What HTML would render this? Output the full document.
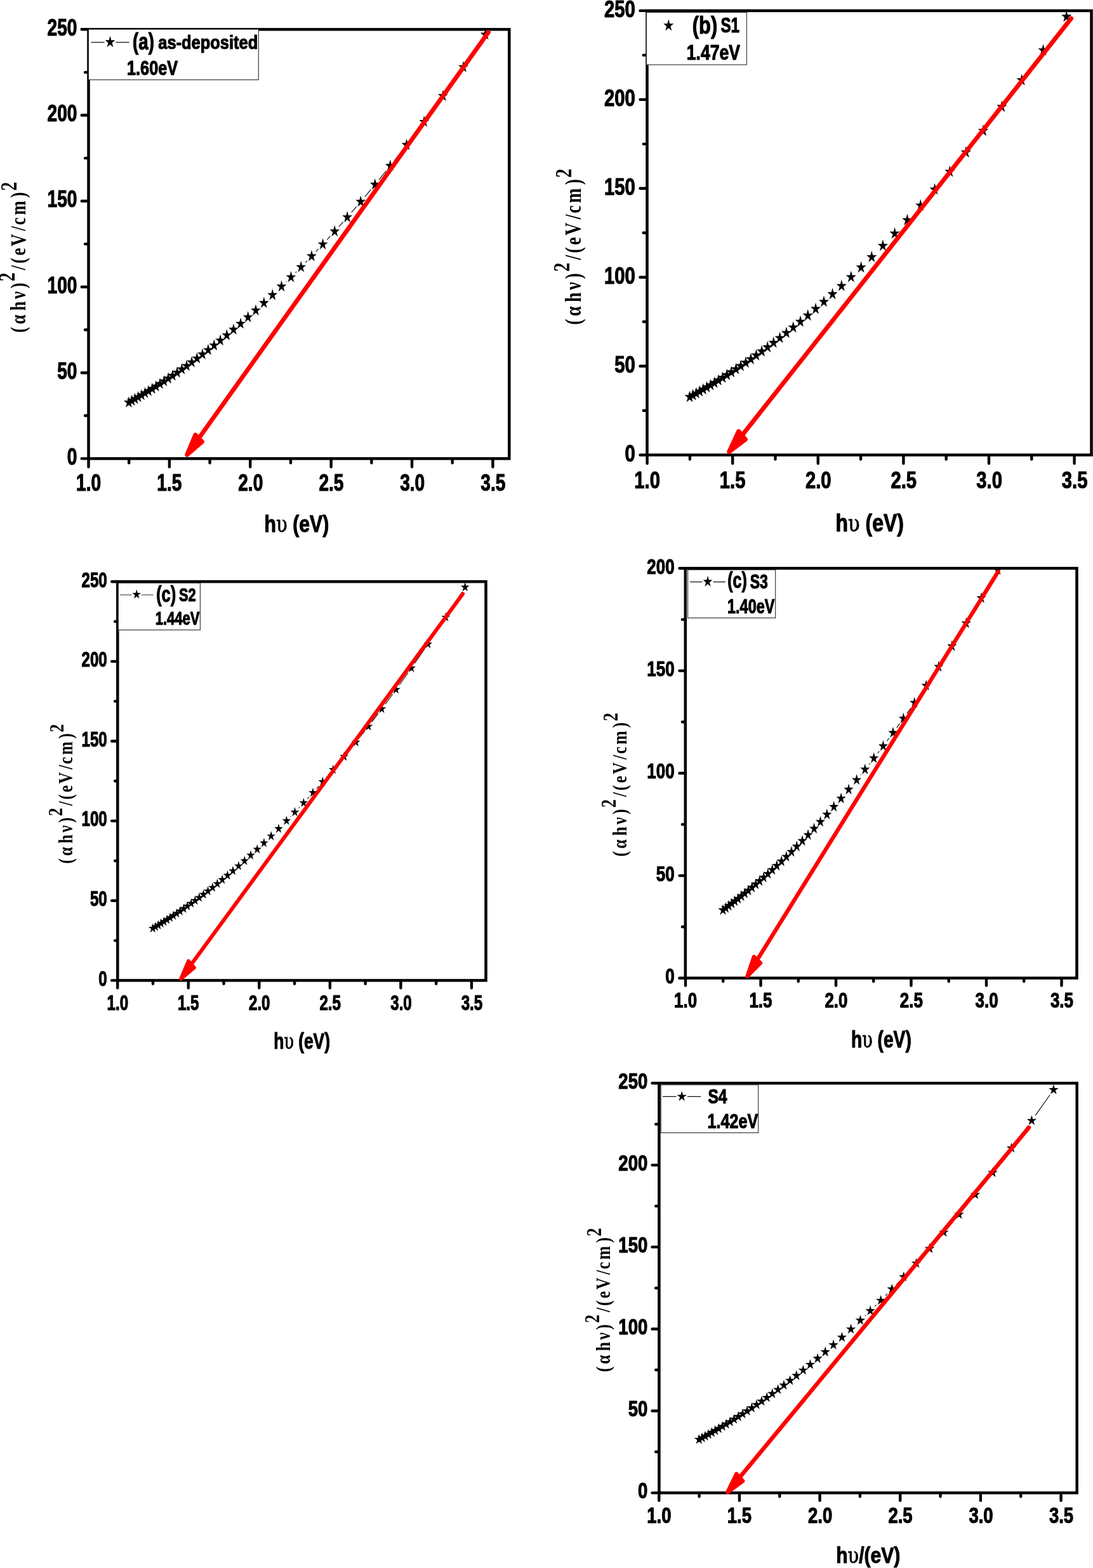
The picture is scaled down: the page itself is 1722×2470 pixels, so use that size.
<!DOCTYPE html>
<html lang="en"><head><meta charset="utf-8"><title>Tauc plots</title>
<style>html,body{margin:0;padding:0;background:#fff}body{width:1722px;height:2470px;overflow:hidden}svg text{fill:#000;white-space:pre}
.s{font-family:"Liberation Sans",sans-serif;font-weight:bold;stroke:#000;stroke-width:1.05px;stroke-linejoin:round;vector-effect:non-scaling-stroke}
.r{font-family:"Liberation Serif",serif;font-weight:bold}
.u{font-family:"DejaVu Serif","Liberation Serif",serif;font-weight:normal;stroke-width:0.8px}
</style>
</head><body>
<svg width="1722" height="2470" viewBox="0 0 1722 2470" style="display:block">
<rect width="1722" height="2470" fill="#fff"/>
<g><path d="M128.70,722.40H138.00M134.00,654.79H138.00M128.70,587.18H138.00M134.00,519.57H138.00M128.70,451.96H138.00M134.00,384.35H138.00M128.70,316.74H138.00M134.00,249.13H138.00M128.70,181.52H138.00M134.00,113.91H138.00M128.70,46.30H138.00M139.50,723.90V735.60M203.19,723.90V729.30M266.88,723.90V735.60M330.57,723.90V729.30M394.26,723.90V735.60M457.95,723.90V729.30M521.64,723.90V735.60M585.33,723.90V729.30M649.02,723.90V735.60M712.71,723.90V729.30M776.40,723.90V735.60" stroke="#000" stroke-width="4.4" stroke-linecap="round" fill="none"/>
<rect x="139.50" y="46.30" width="662.80" height="676.10" fill="none" stroke="#000" stroke-width="4.5"/>
<text transform="translate(105.80,732.11) scale(0.7603,1)" font-size="36.96" class="s" >0</text>
<text transform="translate(90.21,596.89) scale(0.7603,1)" font-size="36.96" class="s" >50</text>
<text transform="translate(74.54,461.67) scale(0.7603,1)" font-size="36.96" class="s" >100</text>
<text transform="translate(74.54,326.45) scale(0.7603,1)" font-size="36.96" class="s" >150</text>
<text transform="translate(74.54,191.23) scale(0.7603,1)" font-size="36.96" class="s" >200</text>
<text transform="translate(74.54,56.01) scale(0.7603,1)" font-size="36.96" class="s" >250</text>
<text transform="translate(120.05,773.01) scale(0.7603,1)" font-size="36.96" class="s" >1.0</text>
<text transform="translate(247.26,773.01) scale(0.7603,1)" font-size="36.96" class="s" >1.5</text>
<text transform="translate(375.20,773.01) scale(0.7603,1)" font-size="36.96" class="s" >2.0</text>
<text transform="translate(502.40,773.01) scale(0.7603,1)" font-size="36.96" class="s" >2.5</text>
<text transform="translate(630.14,772.91) scale(0.7603,1)" font-size="36.96" class="s" >3.0</text>
<text transform="translate(757.34,772.91) scale(0.7603,1)" font-size="36.96" class="s" >3.5</text>
<text transform="translate(416.61,837.98) scale(0.8025,1)" font-size="37.72" class="s" >h<tspan class="u" font-size="36.22">υ</tspan> (eV)</text>
<text transform="translate(40.30,523.40) rotate(-90) scale(0.7900,1)" font-size="34.00" class="r"><tspan x="-0.63" y="0">(</tspan><tspan x="16.07" y="0">α</tspan><tspan x="43.07" y="0">h</tspan><tspan x="66.44" y="0">ν</tspan><tspan x="87.43" y="0">)</tspan><tspan x="101.62" y="-17.68" font-size="35.02">2</tspan><tspan class="q" x="124.08" y="0">/</tspan><tspan x="137.22" y="0">(</tspan><tspan x="152.94" y="0">e</tspan><tspan x="171.43" y="0">V</tspan><tspan class="q" x="202.12" y="0">/</tspan><tspan x="213.78" y="0">c</tspan><tspan x="233.59" y="0">m</tspan><tspan x="268.38" y="0">)</tspan><tspan x="282.19" y="-14.79" font-size="35.02">2</tspan></text>
<path d="M759.08,62.80L735.60,97.44M724.23,113.89L703.67,143.07M692.01,159.32L674.09,183.84M662.15,199.88L646.60,220.41M634.39,236.26L620.98,253.35M608.52,268.99L597.06,283.12M584.34,298.56L574.66,310.12M561.71,325.36L553.66,334.68M540.47,349.71L533.91,357.08M520.50,371.92L515.32,377.58M501.70,392.22L497.78,396.38M483.95,410.83L481.20,413.66M467.18,427.92L465.52,429.59M451.31,443.67L450.65,444.31" stroke="#000" stroke-width="1.1" fill="none"/>
<clipPath id="clip_a"><rect x="139.50" y="46.30" width="662.80" height="676.10"/></clipPath>
<g fill="#000" clip-path="url(#clip_a)"><polygon points="764.69,44.72 766.55,51.49 772.58,51.49 767.71,55.68 769.57,62.45 764.69,58.27 759.81,62.45 761.68,55.68 756.80,51.49 762.83,51.49"/><polygon points="729.99,95.92 731.85,102.69 737.88,102.69 733.00,106.88 734.87,113.65 729.99,109.46 725.11,113.65 726.97,106.88 722.09,102.69 728.12,102.69"/><polygon points="697.92,141.45 699.78,148.22 705.81,148.22 700.93,152.40 702.79,159.17 697.92,154.99 693.04,159.17 694.90,152.40 690.02,148.22 696.05,148.22"/><polygon points="668.19,182.11 670.05,188.88 676.08,188.88 671.20,193.07 673.07,199.84 668.19,195.66 663.31,199.84 665.17,193.07 660.30,188.88 666.33,188.88"/><polygon points="640.56,218.59 642.42,225.36 648.45,225.36 643.58,229.54 645.44,236.31 640.56,232.13 635.68,236.31 637.54,229.54 632.67,225.36 638.70,225.36"/><polygon points="614.81,251.42 616.68,258.19 622.71,258.19 617.83,262.38 619.69,269.15 614.81,264.97 609.93,269.15 611.80,262.38 606.92,258.19 612.95,258.19"/><polygon points="590.76,281.09 592.63,287.86 598.66,287.86 593.78,292.05 595.64,298.82 590.76,294.64 585.88,298.82 587.75,292.05 582.87,287.86 588.90,287.86"/><polygon points="568.25,307.99 570.11,314.76 576.14,314.76 571.26,318.94 573.12,325.72 568.25,321.53 563.37,325.72 565.23,318.94 560.35,314.76 566.38,314.76"/><polygon points="547.12,332.44 548.98,339.22 555.01,339.22 550.14,343.40 552.00,350.17 547.12,345.99 542.24,350.17 544.10,343.40 539.23,339.22 545.26,339.22"/><polygon points="527.26,354.75 529.13,361.52 535.16,361.52 530.28,365.71 532.14,372.48 527.26,368.29 522.38,372.48 524.25,365.71 519.37,361.52 525.40,361.52"/><polygon points="508.56,375.15 510.42,381.92 516.45,381.92 511.58,386.10 513.44,392.88 508.56,388.69 503.68,392.88 505.54,386.10 500.67,381.92 506.70,381.92"/><polygon points="490.92,393.85 492.78,400.62 498.81,400.62 493.93,404.81 495.79,411.58 490.92,407.39 486.04,411.58 487.90,404.81 483.02,400.62 489.05,400.62"/><polygon points="474.24,411.04 476.11,417.81 482.14,417.81 477.26,422.00 479.12,428.77 474.24,424.58 469.36,428.77 471.23,422.00 466.35,417.81 472.38,417.81"/><polygon points="458.46,426.88 460.32,433.65 466.36,433.65 461.48,437.83 463.34,444.60 458.46,440.42 453.58,444.60 455.45,437.83 450.57,433.65 456.60,433.65"/><polygon points="443.50,441.50 445.37,448.27 451.40,448.27 446.52,452.45 448.38,459.22 443.50,455.04 438.62,459.22 440.49,452.45 435.61,448.27 441.64,448.27"/><polygon points="429.31,455.02 431.17,461.79 437.20,461.79 432.32,465.98 434.18,472.75 429.31,468.57 424.43,472.75 426.29,465.98 421.41,461.79 427.44,461.79"/><polygon points="415.81,467.56 417.67,474.33 423.70,474.33 418.83,478.52 420.69,485.29 415.81,481.11 410.93,485.29 412.80,478.52 407.92,474.33 413.95,474.33"/><polygon points="402.97,479.21 404.83,485.98 410.86,485.98 405.99,490.16 407.85,496.93 402.97,492.75 398.09,496.93 399.95,490.16 395.08,485.98 401.11,485.98"/><polygon points="390.73,490.04 392.60,496.81 398.63,496.81 393.75,501.00 395.61,507.77 390.73,503.58 385.86,507.77 387.72,501.00 382.84,496.81 388.87,496.81"/><polygon points="379.06,500.14 380.93,506.91 386.96,506.91 382.08,511.09 383.94,517.87 379.06,513.68 374.18,517.87 376.05,511.09 371.17,506.91 377.20,506.91"/><polygon points="367.92,509.56 369.78,516.33 375.81,516.33 370.93,520.52 372.80,527.29 367.92,523.11 363.04,527.29 364.90,520.52 360.03,516.33 366.06,516.33"/><polygon points="357.27,518.37 359.13,525.15 365.16,525.15 360.28,529.33 362.14,536.10 357.27,531.92 352.39,536.10 354.25,529.33 349.37,525.15 355.40,525.15"/><polygon points="347.07,526.62 348.94,533.40 354.97,533.40 350.09,537.58 351.95,544.35 347.07,540.17 342.19,544.35 344.06,537.58 339.18,533.40 345.21,533.40"/><polygon points="337.31,534.36 339.17,541.13 345.20,541.13 340.32,545.32 342.19,552.09 337.31,547.90 332.43,552.09 334.29,545.32 329.42,541.13 335.45,541.13"/><polygon points="327.95,541.62 329.81,548.39 335.84,548.39 330.97,552.58 332.83,559.35 327.95,555.17 323.07,559.35 324.93,552.58 320.06,548.39 326.09,548.39"/><polygon points="318.97,548.45 320.83,555.22 326.86,555.22 321.99,559.41 323.85,566.18 318.97,561.99 314.09,566.18 315.95,559.41 311.08,555.22 317.11,555.22"/><polygon points="310.35,554.88 312.21,561.65 318.24,561.65 313.36,565.83 315.23,572.61 310.35,568.42 305.47,572.61 307.33,565.83 302.45,561.65 308.48,561.65"/><polygon points="302.06,560.93 303.92,567.71 309.95,567.71 305.07,571.89 306.94,578.66 302.06,574.48 297.18,578.66 299.04,571.89 294.17,567.71 300.20,567.71"/><polygon points="294.09,566.65 295.95,573.42 301.98,573.42 297.10,577.61 298.97,584.38 294.09,580.19 289.21,584.38 291.07,577.61 286.19,573.42 292.22,573.42"/><polygon points="286.42,572.05 288.28,578.82 294.31,578.82 289.43,583.00 291.29,589.77 286.42,585.59 281.54,589.77 283.40,583.00 278.52,578.82 284.55,578.82"/><polygon points="279.03,577.15 280.89,583.92 286.92,583.92 282.04,588.11 283.91,594.88 279.03,590.69 274.15,594.88 276.01,588.11 271.13,583.92 277.16,583.92"/><polygon points="271.90,581.98 273.77,588.75 279.80,588.75 274.92,592.94 276.78,599.71 271.90,595.52 267.03,599.71 268.89,592.94 264.01,588.75 270.04,588.75"/><polygon points="265.03,586.56 266.90,593.33 272.93,593.33 268.05,597.51 269.91,604.28 265.03,600.10 260.16,604.28 262.02,597.51 257.14,593.33 263.17,593.33"/><polygon points="258.40,590.90 260.27,597.67 266.30,597.67 261.42,601.85 263.28,608.62 258.40,604.44 253.52,608.62 255.39,601.85 250.51,597.67 256.54,597.67"/><polygon points="252.00,595.02 253.86,601.79 259.89,601.79 255.02,605.97 256.88,612.74 252.00,608.56 247.12,612.74 248.98,605.97 244.11,601.79 250.14,601.79"/><polygon points="245.81,598.93 247.68,605.70 253.71,605.70 248.83,609.89 250.69,616.66 245.81,612.47 240.93,616.66 242.80,609.89 237.92,605.70 243.95,605.70"/><polygon points="239.83,602.65 241.69,609.42 247.72,609.42 242.85,613.61 244.71,620.38 239.83,616.20 234.95,620.38 236.81,613.61 231.94,609.42 237.97,609.42"/><polygon points="234.04,606.19 235.91,612.97 241.94,612.97 237.06,617.15 238.92,623.92 234.04,619.74 229.16,623.92 231.03,617.15 226.15,612.97 232.18,612.97"/><polygon points="228.44,609.57 230.30,616.34 236.33,616.34 231.46,620.52 233.32,627.30 228.44,623.11 223.56,627.30 225.43,620.52 220.55,616.34 226.58,616.34"/><polygon points="223.02,612.78 224.88,619.56 230.91,619.56 226.03,623.74 227.89,630.51 223.02,626.33 218.14,630.51 220.00,623.74 215.12,619.56 221.15,619.56"/><polygon points="217.76,615.85 219.62,622.62 225.65,622.62 220.78,626.81 222.64,633.58 217.76,629.39 212.88,633.58 214.74,626.81 209.87,622.62 215.90,622.62"/><polygon points="212.66,618.78 214.53,625.55 220.56,625.55 215.68,629.74 217.54,636.51 212.66,632.32 207.79,636.51 209.65,629.74 204.77,625.55 210.80,625.55"/><polygon points="207.72,621.58 209.59,628.35 215.62,628.35 210.74,632.53 212.60,639.30 207.72,635.12 202.84,639.30 204.71,632.53 199.83,628.35 205.86,628.35"/><polygon points="202.93,624.25 204.79,631.02 210.82,631.02 205.94,635.21 207.81,641.98 202.93,637.79 198.05,641.98 199.91,635.21 195.03,631.02 201.06,631.02"/></g>
<g stroke="#f00" fill="#f00" stroke-linejoin="round" stroke-linecap="round"><path d="M769.50,50.80L313.10,690.45" stroke-width="6.9" fill="none"/><path d="M294.70,716.30L307.80,685.00L318.40,695.90Z" stroke-width="6.9"/></g>
<rect x="139.50" y="46.10" width="267.80" height="79.60" fill="#fff" stroke="#2a2a2a" stroke-width="1.1"/>
<path d="M143.40,66.60H164.60M182.40,66.60H203.60" stroke="#111" stroke-width="1.1" fill="none"/>
<polygon points="173.50,56.60 175.36,63.37 181.39,63.37 176.52,67.56 178.38,74.33 173.50,70.14 168.62,74.33 170.48,67.56 165.61,63.37 171.64,63.37" fill="#000"/>
<text transform="translate(209.04,78.24) scale(0.7620,1)" font-size="36.30" class="s" >(a)</text>
<text transform="translate(249.26,77.00) scale(0.8558,1)" font-size="29.76" class="s" >as-deposited</text>
<text transform="translate(200.05,117.76) scale(0.7965,1)" font-size="31.73" class="s" >1.60eV</text></g>
<g><path d="M1008.50,716.70H1018.00M1013.70,646.72H1018.00M1008.50,576.74H1018.00M1013.70,506.76H1018.00M1008.50,436.78H1018.00M1013.70,366.80H1018.00M1008.50,296.82H1018.00M1013.70,226.84H1018.00M1008.50,156.86H1018.00M1013.70,86.88H1018.00M1008.50,16.90H1018.00M1019.60,718.20V730.10M1086.90,718.20V723.60M1154.20,718.20V730.10M1221.50,718.20V723.60M1288.80,718.20V730.10M1356.10,718.20V723.60M1423.40,718.20V730.10M1490.70,718.20V723.60M1558.00,718.20V730.10M1625.30,718.20V723.60M1692.60,718.20V730.10" stroke="#000" stroke-width="4.4" stroke-linecap="round" fill="none"/>
<rect x="1019.50" y="16.90" width="700.00" height="699.80" fill="none" stroke="#000" stroke-width="4.5"/>
<text transform="translate(984.42,726.50) scale(0.7848,1)" font-size="37.24" class="s" >0</text>
<text transform="translate(968.20,586.54) scale(0.7848,1)" font-size="37.24" class="s" >50</text>
<text transform="translate(951.90,446.58) scale(0.7848,1)" font-size="37.24" class="s" >100</text>
<text transform="translate(951.90,306.62) scale(0.7848,1)" font-size="37.24" class="s" >150</text>
<text transform="translate(951.90,166.66) scale(0.7848,1)" font-size="37.24" class="s" >200</text>
<text transform="translate(951.90,26.70) scale(0.7848,1)" font-size="37.24" class="s" >250</text>
<text transform="translate(999.36,768.60) scale(0.7848,1)" font-size="37.24" class="s" >1.0</text>
<text transform="translate(1133.77,768.60) scale(0.7848,1)" font-size="37.24" class="s" >1.5</text>
<text transform="translate(1268.96,768.60) scale(0.7848,1)" font-size="37.24" class="s" >2.0</text>
<text transform="translate(1403.38,768.60) scale(0.7848,1)" font-size="37.24" class="s" >2.5</text>
<text transform="translate(1538.34,768.51) scale(0.7848,1)" font-size="37.24" class="s" >3.0</text>
<text transform="translate(1672.76,768.51) scale(0.7848,1)" font-size="37.24" class="s" >3.5</text>
<text transform="translate(1316.49,836.58) scale(0.8226,1)" font-size="38.83" class="s" >h<tspan class="u" font-size="37.27">υ</tspan> (eV)</text>
<text transform="translate(915.20,511.20) rotate(-90) scale(0.7900,1)" font-size="35.27" class="r"><tspan x="-0.66" y="0">(</tspan><tspan x="16.67" y="0">α</tspan><tspan x="44.68" y="0">h</tspan><tspan x="68.92" y="0">ν</tspan><tspan x="90.69" y="0">)</tspan><tspan x="105.41" y="-18.34" font-size="36.33">2</tspan><tspan class="q" x="128.70" y="0">/</tspan><tspan x="142.33" y="0">(</tspan><tspan x="158.64" y="0">e</tspan><tspan x="177.82" y="0">V</tspan><tspan class="q" x="209.65" y="0">/</tspan><tspan x="221.75" y="0">c</tspan><tspan x="242.30" y="0">m</tspan><tspan x="278.38" y="0">)</tspan><tspan x="292.71" y="-15.34" font-size="36.33">2</tspan></text>
<clipPath id="clip_b"><rect x="1019.50" y="16.90" width="700.00" height="699.80"/></clipPath>
<g fill="#000" clip-path="url(#clip_b)"><polygon points="1680.23,16.41 1682.14,23.32 1688.31,23.32 1683.32,27.59 1685.22,34.50 1680.23,30.23 1675.23,34.50 1677.14,27.59 1672.14,23.32 1678.32,23.32"/><polygon points="1643.56,69.33 1645.46,76.24 1651.64,76.24 1646.64,80.51 1648.55,87.42 1643.56,83.15 1638.56,87.42 1640.47,80.51 1635.47,76.24 1641.65,76.24"/><polygon points="1609.67,116.38 1611.58,123.29 1617.75,123.29 1612.75,127.56 1614.66,134.47 1609.67,130.20 1604.67,134.47 1606.58,127.56 1601.58,123.29 1607.76,123.29"/><polygon points="1578.26,158.41 1580.16,165.32 1586.34,165.32 1581.34,169.59 1583.25,176.50 1578.26,172.23 1573.26,176.50 1575.17,169.59 1570.17,165.32 1576.35,165.32"/><polygon points="1549.06,196.11 1550.97,203.02 1557.14,203.02 1552.15,207.29 1554.06,214.20 1549.06,209.93 1544.06,214.20 1545.97,207.29 1540.98,203.02 1547.15,203.02"/><polygon points="1521.85,230.05 1523.76,236.96 1529.94,236.96 1524.94,241.23 1526.85,248.14 1521.85,243.87 1516.86,248.14 1518.77,241.23 1513.77,236.96 1519.95,236.96"/><polygon points="1496.44,260.71 1498.35,267.62 1504.52,267.62 1499.53,271.89 1501.44,278.80 1496.44,274.53 1491.44,278.80 1493.35,271.89 1488.36,267.62 1494.53,267.62"/><polygon points="1472.65,288.51 1474.56,295.42 1480.73,295.42 1475.73,299.69 1477.64,306.60 1472.65,302.33 1467.65,306.60 1469.56,299.69 1464.56,295.42 1470.74,295.42"/><polygon points="1450.32,313.79 1452.23,320.70 1458.41,320.70 1453.41,324.97 1455.32,331.88 1450.32,327.61 1445.33,331.88 1447.24,324.97 1442.24,320.70 1448.42,320.70"/><polygon points="1429.34,336.84 1431.25,343.75 1437.42,343.75 1432.43,348.02 1434.34,354.93 1429.34,350.66 1424.34,354.93 1426.25,348.02 1421.26,343.75 1427.43,343.75"/><polygon points="1409.58,357.92 1411.49,364.83 1417.66,364.83 1412.67,369.10 1414.57,376.01 1409.58,371.74 1404.58,376.01 1406.49,369.10 1401.49,364.83 1407.67,364.83"/><polygon points="1390.93,377.25 1392.84,384.16 1399.02,384.16 1394.02,388.43 1395.93,395.34 1390.93,391.07 1385.94,395.34 1387.85,388.43 1382.85,384.16 1389.03,384.16"/><polygon points="1373.32,395.02 1375.22,401.93 1381.40,401.93 1376.40,406.20 1378.31,413.11 1373.32,408.84 1368.32,413.11 1370.23,406.20 1365.23,401.93 1371.41,401.93"/><polygon points="1356.64,411.39 1358.55,418.30 1364.72,418.30 1359.73,422.57 1361.64,429.48 1356.64,425.21 1351.64,429.48 1353.55,422.57 1348.56,418.30 1354.73,418.30"/><polygon points="1340.83,426.50 1342.74,433.41 1348.92,433.41 1343.92,437.68 1345.83,444.59 1340.83,440.32 1335.84,444.59 1337.75,437.68 1332.75,433.41 1338.93,433.41"/><polygon points="1325.83,440.48 1327.74,447.39 1333.92,447.39 1328.92,451.66 1330.83,458.57 1325.83,454.30 1320.84,458.57 1322.74,451.66 1317.75,447.39 1323.92,447.39"/><polygon points="1311.57,453.44 1313.48,460.35 1319.66,460.35 1314.66,464.62 1316.57,471.53 1311.57,467.26 1306.58,471.53 1308.48,464.62 1303.49,460.35 1309.66,460.35"/><polygon points="1298.00,465.47 1299.91,472.38 1306.09,472.38 1301.09,476.65 1303.00,483.56 1298.00,479.29 1293.01,483.56 1294.92,476.65 1289.92,472.38 1296.09,472.38"/><polygon points="1285.07,476.67 1286.98,483.58 1293.16,483.58 1288.16,487.85 1290.07,494.76 1285.07,490.49 1280.08,494.76 1281.99,487.85 1276.99,483.58 1283.17,483.58"/><polygon points="1272.74,487.11 1274.65,494.02 1280.83,494.02 1275.83,498.29 1277.74,505.20 1272.74,500.93 1267.75,505.20 1269.65,498.29 1264.66,494.02 1270.83,494.02"/><polygon points="1260.97,496.85 1262.87,503.76 1269.05,503.76 1264.05,508.03 1265.96,514.94 1260.97,510.67 1255.97,514.94 1257.88,508.03 1252.88,503.76 1259.06,503.76"/><polygon points="1249.71,505.96 1251.62,512.86 1257.79,512.86 1252.80,517.14 1254.71,524.05 1249.71,519.78 1244.71,524.05 1246.62,517.14 1241.62,512.86 1247.80,512.86"/><polygon points="1238.94,514.48 1240.85,521.39 1247.02,521.39 1242.03,525.66 1243.93,532.57 1238.94,528.30 1233.94,532.57 1235.85,525.66 1230.85,521.39 1237.03,521.39"/><polygon points="1228.62,522.48 1230.53,529.39 1236.71,529.39 1231.71,533.66 1233.62,540.57 1228.62,536.30 1223.63,540.57 1225.53,533.66 1220.54,529.39 1226.71,529.39"/><polygon points="1218.73,529.98 1220.64,536.89 1226.82,536.89 1221.82,541.16 1223.73,548.07 1218.73,543.80 1213.74,548.07 1215.64,541.16 1210.65,536.89 1216.82,536.89"/><polygon points="1209.24,537.04 1211.15,543.95 1217.33,543.95 1212.33,548.22 1214.24,555.13 1209.24,550.86 1204.25,555.13 1206.15,548.22 1201.16,543.95 1207.33,543.95"/><polygon points="1200.13,543.68 1202.04,550.59 1208.21,550.59 1203.22,554.86 1205.13,561.77 1200.13,557.50 1195.13,561.77 1197.04,554.86 1192.05,550.59 1198.22,550.59"/><polygon points="1191.37,549.94 1193.28,556.85 1199.46,556.85 1194.46,561.12 1196.37,568.03 1191.37,563.76 1186.38,568.03 1188.29,561.12 1183.29,556.85 1189.46,556.85"/><polygon points="1182.95,555.85 1184.86,562.76 1191.03,562.76 1186.04,567.03 1187.95,573.94 1182.95,569.67 1177.95,573.94 1179.86,567.03 1174.87,562.76 1181.04,562.76"/><polygon points="1174.84,561.43 1176.75,568.34 1182.93,568.34 1177.93,572.61 1179.84,579.52 1174.84,575.25 1169.85,579.52 1171.76,572.61 1166.76,568.34 1172.94,568.34"/><polygon points="1167.04,566.70 1168.94,573.61 1175.12,573.61 1170.12,577.88 1172.03,584.79 1167.04,580.52 1162.04,584.79 1163.95,577.88 1158.95,573.61 1165.13,573.61"/><polygon points="1159.51,571.69 1161.42,578.60 1167.59,578.60 1162.60,582.88 1164.50,589.79 1159.51,585.51 1154.51,589.79 1156.42,582.88 1151.42,578.60 1157.60,578.60"/><polygon points="1152.25,576.43 1154.16,583.33 1160.33,583.33 1155.34,587.61 1157.25,594.52 1152.25,590.25 1147.25,594.52 1149.16,587.61 1144.17,583.33 1150.34,583.33"/><polygon points="1145.24,580.91 1147.15,587.82 1153.33,587.82 1148.33,592.09 1150.24,599.00 1145.24,594.73 1140.25,599.00 1142.15,592.09 1137.16,587.82 1143.33,587.82"/><polygon points="1138.48,585.17 1140.39,592.08 1146.56,592.08 1141.56,596.35 1143.47,603.26 1138.48,598.99 1133.48,603.26 1135.39,596.35 1130.39,592.08 1136.57,592.08"/><polygon points="1131.94,589.21 1133.85,596.12 1140.02,596.12 1135.03,600.40 1136.93,607.30 1131.94,603.03 1126.94,607.30 1128.85,600.40 1123.85,596.12 1130.03,596.12"/><polygon points="1125.62,593.06 1127.53,599.97 1133.70,599.97 1128.71,604.24 1130.61,611.15 1125.62,606.88 1120.62,611.15 1122.53,604.24 1117.53,599.97 1123.71,599.97"/><polygon points="1119.50,596.72 1121.41,603.63 1127.59,603.63 1122.59,607.90 1124.50,614.81 1119.50,610.54 1114.51,614.81 1116.41,607.90 1111.42,603.63 1117.59,603.63"/><polygon points="1113.58,600.21 1115.49,607.12 1121.67,607.12 1116.67,611.39 1118.58,618.30 1113.58,614.03 1108.59,618.30 1110.49,611.39 1105.50,607.12 1111.67,607.12"/><polygon points="1107.85,603.53 1109.76,610.44 1115.93,610.44 1110.94,614.71 1112.85,621.62 1107.85,617.35 1102.85,621.62 1104.76,614.71 1099.77,610.44 1105.94,610.44"/><polygon points="1102.30,606.70 1104.20,613.61 1110.38,613.61 1105.38,617.88 1107.29,624.79 1102.30,620.52 1097.30,624.79 1099.21,617.88 1094.21,613.61 1100.39,613.61"/><polygon points="1096.91,609.73 1098.82,616.64 1105.00,616.64 1100.00,620.91 1101.91,627.82 1096.91,623.55 1091.91,627.82 1093.82,620.91 1088.83,616.64 1095.00,616.64"/><polygon points="1091.69,612.62 1093.60,619.53 1099.77,619.53 1094.78,623.80 1096.69,630.71 1091.69,626.44 1086.69,630.71 1088.60,623.80 1083.61,619.53 1089.78,619.53"/><polygon points="1086.62,615.38 1088.53,622.29 1094.71,622.29 1089.71,626.56 1091.62,633.47 1086.62,629.20 1081.63,633.47 1083.53,626.56 1078.54,622.29 1084.71,622.29"/></g>
<g stroke="#f00" fill="#f00" stroke-linejoin="round" stroke-linecap="round"><path d="M1687.60,29.00L1169.15,685.75" stroke-width="6.9" fill="none"/><path d="M1148.60,711.80L1163.80,679.30L1174.50,692.20Z" stroke-width="6.9"/></g>
<rect x="1018.40" y="19.50" width="157.90" height="82.50" fill="#fff" stroke="#2a2a2a" stroke-width="1.1"/>
<polygon points="1053.30,30.30 1055.21,37.21 1061.38,37.21 1056.39,41.48 1058.30,48.39 1053.30,44.12 1048.30,48.39 1050.21,41.48 1045.22,37.21 1051.39,37.21" fill="#000"/>
<text transform="translate(1090.78,52.88) scale(0.8007,1)" font-size="38.55" class="s" >(b)</text>
<text transform="translate(1135.50,51.05) scale(0.7353,1)" font-size="32.86" class="s" >S1</text>
<text transform="translate(1081.76,93.64) scale(0.7854,1)" font-size="33.91" class="s" >1.47eV</text></g>
<g><path d="M176.20,1544.40H183.80M181.10,1481.58H183.80M176.20,1418.76H183.80M181.10,1355.94H183.80M176.20,1293.12H183.80M181.10,1230.30H183.80M176.20,1167.48H183.80M181.10,1104.66H183.80M176.20,1041.84H183.80M181.10,979.02H183.80M176.20,916.20H183.80M185.20,1545.90V1556.20M240.97,1545.90V1549.70M296.75,1545.90V1556.20M352.52,1545.90V1549.70M408.30,1545.90V1556.20M464.07,1545.90V1549.70M519.85,1545.90V1556.20M575.62,1545.90V1549.70M631.40,1545.90V1556.20M687.17,1545.90V1549.70M742.95,1545.90V1556.20" stroke="#000" stroke-width="4.4" stroke-linecap="round" fill="none"/>
<rect x="185.30" y="916.20" width="580.20" height="628.20" fill="none" stroke="#000" stroke-width="4.5"/>
<text transform="translate(155.34,1552.75) scale(0.7443,1)" font-size="32.44" class="s" >0</text>
<text transform="translate(141.94,1427.11) scale(0.7443,1)" font-size="32.44" class="s" >50</text>
<text transform="translate(128.48,1301.47) scale(0.7443,1)" font-size="32.44" class="s" >100</text>
<text transform="translate(128.48,1175.83) scale(0.7443,1)" font-size="32.44" class="s" >150</text>
<text transform="translate(128.48,1050.19) scale(0.7443,1)" font-size="32.44" class="s" >200</text>
<text transform="translate(128.48,924.55) scale(0.7443,1)" font-size="32.44" class="s" >250</text>
<text transform="translate(168.55,1590.65) scale(0.7443,1)" font-size="32.44" class="s" >1.0</text>
<text transform="translate(279.95,1590.65) scale(0.7443,1)" font-size="32.44" class="s" >1.5</text>
<text transform="translate(391.98,1590.65) scale(0.7443,1)" font-size="32.44" class="s" >2.0</text>
<text transform="translate(503.38,1590.65) scale(0.7443,1)" font-size="32.44" class="s" >2.5</text>
<text transform="translate(615.23,1590.57) scale(0.7443,1)" font-size="32.44" class="s" >3.0</text>
<text transform="translate(726.63,1590.57) scale(0.7443,1)" font-size="32.44" class="s" >3.5</text>
<text transform="translate(431.28,1651.77) scale(0.7607,1)" font-size="34.69" class="s" >h<tspan class="u" font-size="33.30">υ</tspan> (eV)</text>
<text transform="translate(113.90,1360.00) rotate(-90) scale(0.7900,1)" font-size="31.51" class="r"><tspan x="-0.59" y="0">(</tspan><tspan x="14.89" y="0">α</tspan><tspan x="39.92" y="0">h</tspan><tspan x="61.58" y="0">ν</tspan><tspan x="81.02" y="0">)</tspan><tspan x="94.18" y="-16.38" font-size="32.45">2</tspan><tspan class="q" x="114.99" y="0">/</tspan><tspan x="127.16" y="0">(</tspan><tspan x="141.73" y="0">e</tspan><tspan x="158.87" y="0">V</tspan><tspan class="q" x="187.31" y="0">/</tspan><tspan x="198.12" y="0">c</tspan><tspan x="216.47" y="0">m</tspan><tspan x="248.71" y="0">)</tspan><tspan x="261.52" y="-13.71" font-size="32.45">2</tspan></text>
<path d="M727.84,932.62L707.16,964.94M697.32,980.01L679.20,1007.24M669.11,1022.14L653.30,1045.04M642.95,1059.77L629.23,1078.95M618.64,1093.50L606.80,1109.49M595.97,1123.87L585.85,1137.09M574.80,1151.30L566.24,1162.12M554.97,1176.15L547.85,1184.88M536.37,1198.75L530.57,1205.65M518.88,1219.35L514.29,1224.65M502.41,1238.18L498.93,1242.08M486.86,1255.44L484.42,1258.11M472.17,1271.30L470.69,1272.87M458.27,1285.90L457.68,1286.51" stroke="#000" stroke-width="1.1" fill="none"/>
<clipPath id="clip_c"><rect x="185.30" y="916.20" width="580.20" height="628.20"/></clipPath>
<g fill="#000" clip-path="url(#clip_c)"><polygon points="732.70,916.94 734.29,922.54 739.45,922.54 735.28,926.00 736.87,931.59 732.70,928.13 728.52,931.59 730.12,926.00 725.94,922.54 731.10,922.54"/><polygon points="702.30,964.42 703.90,970.01 709.06,970.01 704.88,973.47 706.48,979.07 702.30,975.61 698.13,979.07 699.72,973.47 695.55,970.01 700.71,970.01"/><polygon points="674.22,1006.64 675.81,1012.23 680.97,1012.23 676.80,1015.69 678.39,1021.29 674.22,1017.83 670.05,1021.29 671.64,1015.69 667.47,1012.23 672.62,1012.23"/><polygon points="648.19,1044.35 649.78,1049.94 654.94,1049.94 650.77,1053.40 652.36,1059.00 648.19,1055.54 644.01,1059.00 645.61,1053.40 641.43,1049.94 646.59,1049.94"/><polygon points="623.99,1078.17 625.59,1083.77 630.74,1083.77 626.57,1087.23 628.16,1092.82 623.99,1089.36 619.82,1092.82 621.41,1087.23 617.24,1083.77 622.40,1083.77"/><polygon points="601.44,1108.62 603.04,1114.22 608.20,1114.22 604.02,1117.68 605.62,1123.27 601.44,1119.82 597.27,1123.27 598.86,1117.68 594.69,1114.22 599.85,1114.22"/><polygon points="580.38,1136.14 581.98,1141.73 587.13,1141.73 582.96,1145.19 584.56,1150.79 580.38,1147.33 576.21,1150.79 577.80,1145.19 573.63,1141.73 578.79,1141.73"/><polygon points="560.66,1161.08 562.26,1166.67 567.42,1166.67 563.24,1170.13 564.84,1175.73 560.66,1172.27 556.49,1175.73 558.08,1170.13 553.91,1166.67 559.07,1166.67"/><polygon points="542.16,1183.76 543.76,1189.35 548.92,1189.35 544.74,1192.81 546.34,1198.41 542.16,1194.95 537.99,1198.41 539.58,1192.81 535.41,1189.35 540.57,1189.35"/><polygon points="524.77,1204.44 526.37,1210.04 531.53,1210.04 527.35,1213.50 528.95,1219.09 524.77,1215.64 520.60,1219.09 522.19,1213.50 518.02,1210.04 523.18,1210.04"/><polygon points="508.40,1223.36 509.99,1228.95 515.15,1228.95 510.97,1232.41 512.57,1238.01 508.40,1234.55 504.22,1238.01 505.82,1232.41 501.64,1228.95 506.80,1228.95"/><polygon points="492.94,1240.70 494.54,1246.30 499.70,1246.30 495.52,1249.76 497.12,1255.35 492.94,1251.90 488.77,1255.35 490.36,1249.76 486.19,1246.30 491.35,1246.30"/><polygon points="478.34,1256.64 479.94,1262.24 485.09,1262.24 480.92,1265.70 482.52,1271.30 478.34,1267.84 474.17,1271.30 475.76,1265.70 471.59,1262.24 476.75,1262.24"/><polygon points="464.52,1271.33 466.12,1276.93 471.28,1276.93 467.10,1280.38 468.70,1285.98 464.52,1282.52 460.35,1285.98 461.94,1280.38 457.77,1276.93 462.93,1276.93"/><polygon points="451.42,1284.89 453.02,1290.48 458.18,1290.48 454.00,1293.94 455.60,1299.54 451.42,1296.08 447.25,1299.54 448.84,1293.94 444.67,1290.48 449.83,1290.48"/><polygon points="438.99,1297.43 440.58,1303.03 445.74,1303.03 441.57,1306.49 443.16,1312.08 438.99,1308.62 434.82,1312.08 436.41,1306.49 432.24,1303.03 437.40,1303.03"/><polygon points="427.17,1309.06 428.77,1314.66 433.93,1314.66 429.75,1318.11 431.35,1323.71 427.17,1320.25 423.00,1323.71 424.59,1318.11 420.42,1314.66 425.58,1314.66"/><polygon points="415.93,1319.86 417.52,1325.45 422.68,1325.45 418.51,1328.91 420.10,1334.51 415.93,1331.05 411.75,1334.51 413.35,1328.91 409.17,1325.45 414.33,1325.45"/><polygon points="405.21,1329.90 406.81,1335.50 411.97,1335.50 407.79,1338.96 409.39,1344.56 405.21,1341.10 401.04,1344.56 402.63,1338.96 398.46,1335.50 403.62,1335.50"/><polygon points="394.99,1339.27 396.59,1344.87 401.74,1344.87 397.57,1348.32 399.17,1353.92 394.99,1350.46 390.82,1353.92 392.41,1348.32 388.24,1344.87 393.40,1344.87"/><polygon points="385.23,1348.01 386.83,1353.61 391.98,1353.61 387.81,1357.07 389.41,1362.66 385.23,1359.20 381.06,1362.66 382.65,1357.07 378.48,1353.61 383.64,1353.61"/><polygon points="375.90,1356.18 377.50,1361.78 382.66,1361.78 378.48,1365.24 380.08,1370.83 375.90,1367.37 371.73,1370.83 373.32,1365.24 369.15,1361.78 374.31,1361.78"/><polygon points="366.98,1363.83 368.57,1369.43 373.73,1369.43 369.56,1372.89 371.15,1378.48 366.98,1375.03 362.80,1378.48 364.40,1372.89 360.22,1369.43 365.38,1369.43"/><polygon points="358.43,1371.01 360.02,1376.60 365.18,1376.60 361.01,1380.06 362.60,1385.66 358.43,1382.20 354.25,1385.66 355.85,1380.06 351.67,1376.60 356.83,1376.60"/><polygon points="350.23,1377.74 351.82,1383.34 356.98,1383.34 352.81,1386.80 354.40,1392.39 350.23,1388.93 346.06,1392.39 347.65,1386.80 343.48,1383.34 348.64,1383.34"/><polygon points="342.37,1384.07 343.96,1389.67 349.12,1389.67 344.95,1393.13 346.54,1398.73 342.37,1395.27 338.19,1398.73 339.79,1393.13 335.61,1389.67 340.77,1389.67"/><polygon points="334.82,1390.03 336.41,1395.63 341.57,1395.63 337.39,1399.09 338.99,1404.69 334.82,1401.23 330.64,1404.69 332.24,1399.09 328.06,1395.63 333.22,1395.63"/><polygon points="327.56,1395.65 329.15,1401.25 334.31,1401.25 330.14,1404.71 331.73,1410.30 327.56,1406.84 323.38,1410.30 324.98,1404.71 320.80,1401.25 325.96,1401.25"/><polygon points="320.58,1400.95 322.17,1406.55 327.33,1406.55 323.16,1410.00 324.75,1415.60 320.58,1412.14 316.40,1415.60 318.00,1410.00 313.82,1406.55 318.98,1406.55"/><polygon points="313.86,1405.95 315.45,1411.55 320.61,1411.55 316.44,1415.01 318.03,1420.61 313.86,1417.15 309.69,1420.61 311.28,1415.01 307.11,1411.55 312.26,1411.55"/><polygon points="307.39,1410.69 308.98,1416.28 314.14,1416.28 309.97,1419.74 311.56,1425.34 307.39,1421.88 303.21,1425.34 304.81,1419.74 300.63,1416.28 305.79,1416.28"/><polygon points="301.15,1415.17 302.74,1420.76 307.90,1420.76 303.73,1424.22 305.32,1429.82 301.15,1426.36 296.98,1429.82 298.57,1424.22 294.40,1420.76 299.56,1420.76"/><polygon points="295.13,1419.41 296.73,1425.01 301.89,1425.01 297.71,1428.47 299.31,1434.06 295.13,1430.60 290.96,1434.06 292.55,1428.47 288.38,1425.01 293.54,1425.01"/><polygon points="289.33,1423.44 290.92,1429.03 296.08,1429.03 291.91,1432.49 293.50,1438.09 289.33,1434.63 285.15,1438.09 286.75,1432.49 282.57,1429.03 287.73,1429.03"/><polygon points="283.72,1427.26 285.31,1432.85 290.47,1432.85 286.30,1436.31 287.89,1441.91 283.72,1438.45 279.55,1441.91 281.14,1436.31 276.97,1432.85 282.13,1432.85"/><polygon points="278.30,1430.89 279.89,1436.48 285.05,1436.48 280.88,1439.94 282.47,1445.54 278.30,1442.08 274.13,1445.54 275.72,1439.94 271.55,1436.48 276.71,1436.48"/><polygon points="273.06,1434.34 274.66,1439.93 279.81,1439.93 275.64,1443.39 277.24,1448.99 273.06,1445.53 268.89,1448.99 270.48,1443.39 266.31,1439.93 271.47,1439.93"/><polygon points="267.99,1437.62 269.59,1443.22 274.75,1443.22 270.57,1446.68 272.17,1452.27 267.99,1448.82 263.82,1452.27 265.41,1446.68 261.24,1443.22 266.40,1443.22"/><polygon points="263.09,1440.75 264.68,1446.35 269.84,1446.35 265.67,1449.81 267.26,1455.40 263.09,1451.94 258.91,1455.40 260.51,1449.81 256.34,1446.35 261.49,1446.35"/><polygon points="258.34,1443.73 259.93,1449.33 265.09,1449.33 260.92,1452.79 262.51,1458.39 258.34,1454.93 254.16,1458.39 255.76,1452.79 251.58,1449.33 256.74,1449.33"/><polygon points="253.73,1446.58 255.33,1452.17 260.49,1452.17 256.31,1455.63 257.91,1461.23 253.73,1457.77 249.56,1461.23 251.15,1455.63 246.98,1452.17 252.14,1452.17"/><polygon points="249.27,1449.29 250.87,1454.89 256.02,1454.89 251.85,1458.35 253.44,1463.95 249.27,1460.49 245.10,1463.95 246.69,1458.35 242.52,1454.89 247.68,1454.89"/><polygon points="244.94,1451.89 246.54,1457.48 251.70,1457.48 247.52,1460.94 249.12,1466.54 244.94,1463.08 240.77,1466.54 242.36,1460.94 238.19,1457.48 243.35,1457.48"/><polygon points="240.74,1454.37 242.34,1459.96 247.50,1459.96 243.32,1463.42 244.92,1469.02 240.74,1465.56 236.57,1469.02 238.17,1463.42 233.99,1459.96 239.15,1459.96"/></g>
<g stroke="#f00" fill="#f00" stroke-linejoin="round" stroke-linecap="round"><path d="M729.10,935.50L301.50,1519.00" stroke-width="6.0" fill="none"/><path d="M284.90,1542.10L297.00,1513.70L306.00,1524.30Z" stroke-width="5.6"/></g>
<rect x="186.30" y="918.40" width="129.10" height="73.90" fill="#fff" stroke="#2a2a2a" stroke-width="1.1"/>
<path d="M189.10,937.10H207.50M222.90,937.10H241.50" stroke="#555" stroke-width="1.1" fill="none"/>
<polygon points="215.20,928.40 216.79,934.00 221.95,934.00 217.78,937.46 219.37,943.05 215.20,939.59 211.03,943.05 212.62,937.46 208.45,934.00 213.61,934.00" fill="#000"/>
<text transform="translate(246.15,948.31) scale(0.7069,1)" font-size="35.98" class="s" >(c)</text>
<text transform="translate(281.97,946.69) scale(0.7563,1)" font-size="28.90" class="s" >S2</text>
<text transform="translate(244.75,984.48) scale(0.7365,1)" font-size="29.89" class="s" >1.44eV</text></g>
<g><path d="M1070.50,1540.70H1078.30M1074.90,1460.01H1078.30M1070.50,1379.33H1078.30M1074.90,1298.64H1078.30M1070.50,1217.95H1078.30M1074.90,1137.26H1078.30M1070.50,1056.58H1078.30M1074.90,975.89H1078.30M1070.50,895.20H1078.30M1080.00,1542.20V1552.50M1139.25,1542.20V1546.00M1198.50,1542.20V1552.50M1257.75,1542.20V1546.00M1317.00,1542.20V1552.50M1376.25,1542.20V1546.00M1435.50,1542.20V1552.50M1494.75,1542.20V1546.00M1554.00,1542.20V1552.50M1613.25,1542.20V1546.00M1672.50,1542.20V1552.50" stroke="#000" stroke-width="4.4" stroke-linecap="round" fill="none"/>
<rect x="1079.80" y="895.20" width="616.70" height="645.50" fill="none" stroke="#000" stroke-width="4.5"/>
<text transform="translate(1048.20,1549.24) scale(0.7735,1)" font-size="33.57" class="s" >0</text>
<text transform="translate(1033.79,1387.86) scale(0.7735,1)" font-size="33.57" class="s" >50</text>
<text transform="translate(1019.32,1226.49) scale(0.7735,1)" font-size="33.57" class="s" >100</text>
<text transform="translate(1019.32,1065.11) scale(0.7735,1)" font-size="33.57" class="s" >150</text>
<text transform="translate(1019.32,903.74) scale(0.7735,1)" font-size="33.57" class="s" >200</text>
<text transform="translate(1062.06,1587.44) scale(0.7735,1)" font-size="33.57" class="s" >1.0</text>
<text transform="translate(1180.40,1587.44) scale(0.7735,1)" font-size="33.57" class="s" >1.5</text>
<text transform="translate(1299.42,1587.44) scale(0.7735,1)" font-size="33.57" class="s" >2.0</text>
<text transform="translate(1417.76,1587.44) scale(0.7735,1)" font-size="33.57" class="s" >2.5</text>
<text transform="translate(1536.58,1587.36) scale(0.7735,1)" font-size="33.57" class="s" >3.0</text>
<text transform="translate(1654.92,1587.36) scale(0.7735,1)" font-size="33.57" class="s" >3.5</text>
<text transform="translate(1341.05,1650.38) scale(0.7812,1)" font-size="36.07" class="s" >h<tspan class="u" font-size="34.63">υ</tspan> (eV)</text>
<text transform="translate(986.90,1348.90) rotate(-90) scale(0.7900,1)" font-size="32.47" class="r"><tspan x="-0.60" y="0">(</tspan><tspan x="15.35" y="0">α</tspan><tspan x="41.14" y="0">h</tspan><tspan x="63.46" y="0">ν</tspan><tspan x="83.50" y="0">)</tspan><tspan x="97.06" y="-16.89" font-size="33.45">2</tspan><tspan class="q" x="118.51" y="0">/</tspan><tspan x="131.06" y="0">(</tspan><tspan x="146.07" y="0">e</tspan><tspan x="163.73" y="0">V</tspan><tspan class="q" x="193.04" y="0">/</tspan><tspan x="204.19" y="0">c</tspan><tspan x="223.10" y="0">m</tspan><tspan x="256.33" y="0">)</tspan><tspan x="269.52" y="-14.13" font-size="33.45">2</tspan></text>
<path d="M1566.81,906.48L1551.16,933.40M1540.97,950.61L1527.33,973.27M1516.89,990.33L1505.09,1009.30M1494.40,1026.21L1484.26,1041.98M1473.33,1058.73L1464.73,1071.70M1453.56,1088.29L1446.37,1098.81M1434.97,1115.24L1429.09,1123.61M1417.47,1139.88L1412.78,1146.35M1400.95,1162.47L1397.38,1167.26M1385.33,1183.22L1382.80,1186.53M1370.55,1202.34L1368.99,1204.33M1356.54,1219.98L1355.88,1220.79" stroke="#000" stroke-width="1.1" fill="none"/>
<clipPath id="clip_d"><rect x="1079.80" y="895.20" width="616.70" height="645.50"/></clipPath>
<g fill="#000" clip-path="url(#clip_d)"><polygon points="1571.83,888.44 1573.61,894.93 1579.35,894.93 1574.70,898.95 1576.48,905.44 1571.83,901.43 1567.19,905.44 1568.96,898.95 1564.32,894.93 1570.06,894.93"/><polygon points="1546.13,932.64 1547.90,939.14 1553.64,939.14 1549.00,943.15 1550.77,949.65 1546.13,945.63 1541.49,949.65 1543.26,943.15 1538.62,939.14 1544.36,939.14"/><polygon points="1522.18,972.44 1523.95,978.93 1529.69,978.93 1525.05,982.95 1526.82,989.44 1522.18,985.43 1517.53,989.44 1519.31,982.95 1514.66,978.93 1520.40,978.93"/><polygon points="1499.80,1008.40 1501.58,1014.89 1507.32,1014.89 1502.67,1018.90 1504.45,1025.40 1499.80,1021.39 1495.16,1025.40 1496.93,1018.90 1492.29,1014.89 1498.03,1014.89"/><polygon points="1478.86,1040.99 1480.63,1047.49 1486.37,1047.49 1481.73,1051.50 1483.50,1058.00 1478.86,1053.98 1474.21,1058.00 1475.99,1051.50 1471.34,1047.49 1477.08,1047.49"/><polygon points="1459.20,1070.63 1460.98,1077.13 1466.72,1077.13 1462.07,1081.14 1463.85,1087.64 1459.20,1083.62 1454.56,1087.64 1456.33,1081.14 1451.69,1077.13 1457.43,1077.13"/><polygon points="1440.73,1097.66 1442.50,1104.16 1448.24,1104.16 1443.60,1108.17 1445.37,1114.67 1440.73,1110.65 1436.09,1114.67 1437.86,1108.17 1433.22,1104.16 1438.96,1104.16"/><polygon points="1423.33,1122.38 1425.11,1128.88 1430.85,1128.88 1426.20,1132.89 1427.98,1139.39 1423.33,1135.37 1418.69,1139.39 1420.46,1132.89 1415.82,1128.88 1421.56,1128.88"/><polygon points="1406.92,1145.05 1408.69,1151.54 1414.43,1151.54 1409.79,1155.56 1411.56,1162.05 1406.92,1158.04 1402.27,1162.05 1404.05,1155.56 1399.40,1151.54 1405.14,1151.54"/><polygon points="1391.41,1165.88 1393.18,1172.38 1398.92,1172.38 1394.28,1176.39 1396.05,1182.89 1391.41,1178.87 1386.76,1182.89 1388.54,1176.39 1383.89,1172.38 1389.63,1172.38"/><polygon points="1376.73,1185.07 1378.50,1191.57 1384.24,1191.57 1379.60,1195.58 1381.37,1202.08 1376.73,1198.06 1372.08,1202.08 1373.86,1195.58 1369.21,1191.57 1374.95,1191.57"/><polygon points="1362.81,1202.79 1364.58,1209.28 1370.32,1209.28 1365.68,1213.30 1367.45,1219.79 1362.81,1215.78 1358.17,1219.79 1359.94,1213.30 1355.30,1209.28 1361.04,1209.28"/><polygon points="1349.60,1219.18 1351.38,1225.68 1357.12,1225.68 1352.47,1229.69 1354.25,1236.19 1349.60,1232.17 1344.96,1236.19 1346.73,1229.69 1342.09,1225.68 1347.83,1225.68"/><polygon points="1337.05,1234.38 1338.82,1240.87 1344.56,1240.87 1339.92,1244.89 1341.69,1251.38 1337.05,1247.37 1332.41,1251.38 1334.18,1244.89 1329.54,1240.87 1335.28,1240.87"/><polygon points="1325.10,1248.49 1326.88,1254.98 1332.62,1254.98 1327.97,1259.00 1329.75,1265.49 1325.10,1261.48 1320.46,1265.49 1322.23,1259.00 1317.59,1254.98 1323.33,1254.98"/><polygon points="1313.72,1261.62 1315.49,1268.11 1321.23,1268.11 1316.59,1272.13 1318.36,1278.62 1313.72,1274.61 1309.08,1278.62 1310.85,1272.13 1306.21,1268.11 1311.95,1268.11"/><polygon points="1302.86,1273.85 1304.64,1280.35 1310.38,1280.35 1305.73,1284.36 1307.51,1290.86 1302.86,1286.84 1298.22,1290.86 1299.99,1284.36 1295.35,1280.35 1301.09,1280.35"/><polygon points="1292.50,1285.28 1294.27,1291.77 1300.01,1291.77 1295.37,1295.78 1297.14,1302.28 1292.50,1298.27 1287.85,1302.28 1289.63,1295.78 1284.98,1291.77 1290.72,1291.77"/><polygon points="1282.58,1295.95 1284.36,1302.45 1290.10,1302.45 1285.45,1306.46 1287.23,1312.96 1282.58,1308.94 1277.94,1312.96 1279.71,1306.46 1275.07,1302.45 1280.81,1302.45"/><polygon points="1273.10,1305.95 1274.88,1312.45 1280.62,1312.45 1275.97,1316.46 1277.75,1322.96 1273.10,1318.94 1268.46,1322.96 1270.23,1316.46 1265.59,1312.45 1271.33,1312.45"/><polygon points="1264.02,1315.32 1265.79,1321.82 1271.53,1321.82 1266.89,1325.83 1268.66,1332.33 1264.02,1328.32 1259.38,1332.33 1261.15,1325.83 1256.51,1321.82 1262.25,1321.82"/><polygon points="1255.31,1324.13 1257.09,1330.62 1262.83,1330.62 1258.18,1334.64 1259.96,1341.13 1255.31,1337.12 1250.67,1341.13 1252.44,1334.64 1247.80,1330.62 1253.54,1330.62"/><polygon points="1246.96,1332.40 1248.73,1338.89 1254.47,1338.89 1249.83,1342.91 1251.60,1349.40 1246.96,1345.39 1242.32,1349.40 1244.09,1342.91 1239.45,1338.89 1245.18,1338.89"/><polygon points="1238.94,1340.19 1240.71,1346.68 1246.45,1346.68 1241.81,1350.70 1243.58,1357.19 1238.94,1353.18 1234.29,1357.19 1236.07,1350.70 1231.42,1346.68 1237.16,1346.68"/><polygon points="1231.23,1347.53 1233.00,1354.02 1238.74,1354.02 1234.10,1358.04 1235.87,1364.53 1231.23,1360.52 1226.58,1364.53 1228.36,1358.04 1223.71,1354.02 1229.45,1354.02"/><polygon points="1223.81,1354.45 1225.59,1360.95 1231.33,1360.95 1226.68,1364.96 1228.46,1371.46 1223.81,1367.44 1219.17,1371.46 1220.94,1364.96 1216.30,1360.95 1222.04,1360.95"/><polygon points="1216.67,1360.99 1218.45,1367.49 1224.19,1367.49 1219.54,1371.50 1221.32,1378.00 1216.67,1373.98 1212.03,1378.00 1213.80,1371.50 1209.16,1367.49 1214.90,1367.49"/><polygon points="1209.80,1367.18 1211.57,1373.67 1217.31,1373.67 1212.67,1377.69 1214.44,1384.18 1209.80,1380.17 1205.16,1384.18 1206.93,1377.69 1202.29,1373.67 1208.03,1373.67"/><polygon points="1203.17,1373.03 1204.95,1379.52 1210.69,1379.52 1206.04,1383.54 1207.82,1390.03 1203.17,1386.02 1198.53,1390.03 1200.30,1383.54 1195.66,1379.52 1201.40,1379.52"/><polygon points="1196.78,1378.57 1198.56,1385.07 1204.30,1385.07 1199.65,1389.08 1201.43,1395.58 1196.78,1391.57 1192.14,1395.58 1193.91,1389.08 1189.27,1385.07 1195.01,1385.07"/><polygon points="1190.61,1383.83 1192.39,1390.33 1198.13,1390.33 1193.48,1394.34 1195.26,1400.84 1190.61,1396.82 1185.97,1400.84 1187.74,1394.34 1183.10,1390.33 1188.84,1390.33"/><polygon points="1184.66,1388.83 1186.43,1395.32 1192.17,1395.32 1187.53,1399.34 1189.30,1405.83 1184.66,1401.82 1180.01,1405.83 1181.79,1399.34 1177.14,1395.32 1182.88,1395.32"/><polygon points="1178.90,1393.57 1180.68,1400.06 1186.41,1400.06 1181.77,1404.08 1183.54,1410.57 1178.90,1406.56 1174.26,1410.57 1176.03,1404.08 1171.39,1400.06 1177.13,1400.06"/><polygon points="1173.34,1398.08 1175.11,1404.57 1180.85,1404.57 1176.21,1408.59 1177.98,1415.08 1173.34,1411.07 1168.69,1415.08 1170.47,1408.59 1165.82,1404.57 1171.56,1404.57"/><polygon points="1167.95,1402.37 1169.73,1408.87 1175.47,1408.87 1170.82,1412.88 1172.60,1419.38 1167.95,1415.36 1163.31,1419.38 1165.08,1412.88 1160.44,1408.87 1166.18,1408.87"/><polygon points="1162.74,1406.46 1164.51,1412.95 1170.25,1412.95 1165.61,1416.97 1167.38,1423.46 1162.74,1419.45 1158.10,1423.46 1159.87,1416.97 1155.23,1412.95 1160.97,1412.95"/><polygon points="1157.69,1410.36 1159.47,1416.85 1165.21,1416.85 1160.56,1420.87 1162.34,1427.36 1157.69,1423.35 1153.05,1427.36 1154.82,1420.87 1150.18,1416.85 1155.92,1416.85"/><polygon points="1152.80,1414.07 1154.58,1420.57 1160.32,1420.57 1155.67,1424.58 1157.45,1431.08 1152.80,1427.06 1148.16,1431.08 1149.93,1424.58 1145.29,1420.57 1151.03,1420.57"/><polygon points="1148.06,1417.62 1149.84,1424.12 1155.58,1424.12 1150.93,1428.13 1152.71,1434.63 1148.06,1430.61 1143.42,1434.63 1145.19,1428.13 1140.55,1424.12 1146.29,1424.12"/><polygon points="1143.47,1421.01 1145.24,1427.51 1150.98,1427.51 1146.34,1431.52 1148.11,1438.01 1143.47,1434.00 1138.82,1438.01 1140.60,1431.52 1135.95,1427.51 1141.69,1427.51"/><polygon points="1139.01,1424.25 1140.78,1430.75 1146.52,1430.75 1141.88,1434.76 1143.65,1441.26 1139.01,1437.24 1134.36,1441.26 1136.14,1434.76 1131.49,1430.75 1137.23,1430.75"/></g>
<g stroke="#f00" fill="#f00" stroke-linejoin="round" stroke-linecap="round"><path d="M1572.50,900.50L1193.00,1512.00" stroke-width="6.3" fill="none"/><path d="M1177.20,1538.10L1187.80,1507.00L1198.20,1517.00Z" stroke-width="6.0"/></g>
<rect x="1083.60" y="897.60" width="138.10" height="75.80" fill="#fff" stroke="#2a2a2a" stroke-width="1.1"/>
<path d="M1087.20,916.60H1106.50M1123.50,916.60H1142.90" stroke="#111" stroke-width="1.1" fill="none"/>
<polygon points="1115.00,907.00 1116.77,913.49 1122.51,913.50 1117.87,917.51 1119.64,924.00 1115.00,919.99 1110.36,924.00 1112.13,917.51 1107.49,913.50 1113.23,913.49" fill="#000"/>
<text transform="translate(1146.27,925.81) scale(0.6970,1)" font-size="35.98" class="s" >(c)</text>
<text transform="translate(1181.74,926.99) scale(0.7419,1)" font-size="30.92" class="s" >S3</text>
<text transform="translate(1146.06,965.56) scale(0.7462,1)" font-size="31.45" class="s" >1.40eV</text></g>
<g><path d="M1027.50,2351.60H1036.90M1033.20,2287.07H1036.90M1027.50,2222.54H1036.90M1033.20,2158.01H1036.90M1027.50,2093.48H1036.90M1033.20,2028.95H1036.90M1027.50,1964.42H1036.90M1033.20,1899.89H1036.90M1027.50,1835.36H1036.90M1033.20,1770.83H1036.90M1027.50,1706.30H1036.90M1038.30,2353.10V2363.80M1101.62,2353.10V2357.60M1164.95,2353.10V2363.80M1228.28,2353.10V2357.60M1291.60,2353.10V2363.80M1354.92,2353.10V2357.60M1418.25,2353.10V2363.80M1481.58,2353.10V2357.60M1544.90,2353.10V2363.80M1608.22,2353.10V2357.60M1671.55,2353.10V2363.80" stroke="#000" stroke-width="4.4" stroke-linecap="round" fill="none"/>
<rect x="1038.40" y="1706.30" width="658.30" height="645.30" fill="none" stroke="#000" stroke-width="4.5"/>
<text transform="translate(1004.99,2360.43) scale(0.8001,1)" font-size="34.42" class="s" >0</text>
<text transform="translate(989.71,2231.37) scale(0.8001,1)" font-size="34.42" class="s" >50</text>
<text transform="translate(974.36,2102.31) scale(0.8001,1)" font-size="34.42" class="s" >100</text>
<text transform="translate(974.36,1973.25) scale(0.8001,1)" font-size="34.42" class="s" >150</text>
<text transform="translate(974.36,1844.19) scale(0.8001,1)" font-size="34.42" class="s" >200</text>
<text transform="translate(974.36,1715.13) scale(0.8001,1)" font-size="34.42" class="s" >250</text>
<text transform="translate(1019.25,2399.03) scale(0.8001,1)" font-size="34.42" class="s" >1.0</text>
<text transform="translate(1145.73,2399.03) scale(0.8001,1)" font-size="34.42" class="s" >1.5</text>
<text transform="translate(1272.93,2399.03) scale(0.8001,1)" font-size="34.42" class="s" >2.0</text>
<text transform="translate(1399.41,2399.03) scale(0.8001,1)" font-size="34.42" class="s" >2.5</text>
<text transform="translate(1526.40,2398.94) scale(0.8001,1)" font-size="34.42" class="s" >3.0</text>
<text transform="translate(1652.88,2398.94) scale(0.8001,1)" font-size="34.42" class="s" >3.5</text>
<text transform="translate(1317.22,2461.67) scale(0.8407,1)" font-size="35.79" class="s" >h<tspan class="u" font-size="34.36">υ</tspan>/(eV)</text>
<text transform="translate(960.80,2160.80) rotate(-90) scale(0.7900,1)" font-size="32.55" class="r"><tspan x="-0.61" y="0">(</tspan><tspan x="15.38" y="0">α</tspan><tspan x="41.23" y="0">h</tspan><tspan x="63.60" y="0">ν</tspan><tspan x="83.69" y="0">)</tspan><tspan x="97.28" y="-16.92" font-size="33.52">2</tspan><tspan class="q" x="118.77" y="0">/</tspan><tspan x="131.35" y="0">(</tspan><tspan x="146.40" y="0">e</tspan><tspan x="164.10" y="0">V</tspan><tspan class="q" x="193.47" y="0">/</tspan><tspan x="204.64" y="0">c</tspan><tspan x="223.60" y="0">m</tspan><tspan x="256.90" y="0">)</tspan><tspan x="270.12" y="-14.16" font-size="33.52">2</tspan></text>
<path d="M1654.12,1724.77L1631.19,1757.13M1619.47,1773.34L1599.45,1800.52M1587.44,1816.51L1570.03,1839.29M1557.75,1855.07L1542.70,1874.07M1530.15,1889.64L1517.23,1905.40M1504.42,1920.76L1493.44,1933.71M1480.39,1948.86L1471.18,1959.38M1457.88,1974.33L1450.29,1982.74M1436.77,1997.48L1430.65,2004.05M1416.92,2018.58L1412.17,2023.54M1398.22,2037.88L1394.72,2041.42M1380.58,2055.56L1378.25,2057.86M1363.91,2071.81L1362.65,2073.02" stroke="#000" stroke-width="1.1" fill="none"/>
<clipPath id="clip_e"><rect x="1038.40" y="1706.30" width="658.30" height="645.30"/></clipPath>
<g fill="#000" clip-path="url(#clip_e)"><polygon points="1659.91,1708.01 1661.73,1713.95 1667.61,1713.95 1662.85,1717.63 1664.67,1723.57 1659.91,1719.90 1655.15,1723.57 1656.97,1717.63 1652.20,1713.95 1658.09,1713.95"/><polygon points="1625.40,1756.68 1627.22,1762.63 1633.11,1762.63 1628.35,1766.30 1630.16,1772.24 1625.40,1768.57 1620.64,1772.24 1622.46,1766.30 1617.70,1762.63 1623.58,1762.63"/><polygon points="1593.52,1799.97 1595.33,1805.91 1601.22,1805.91 1596.46,1809.58 1598.28,1815.53 1593.52,1811.85 1588.75,1815.53 1590.57,1809.58 1585.81,1805.91 1591.70,1805.91"/><polygon points="1563.96,1838.63 1565.78,1844.57 1571.66,1844.57 1566.90,1848.25 1568.72,1854.19 1563.96,1850.52 1559.20,1854.19 1561.02,1848.25 1556.26,1844.57 1562.14,1844.57"/><polygon points="1536.49,1873.31 1538.31,1879.25 1544.19,1879.25 1539.43,1882.92 1541.25,1888.87 1536.49,1885.19 1531.73,1888.87 1533.55,1882.92 1528.78,1879.25 1534.67,1879.25"/><polygon points="1510.89,1904.53 1512.71,1910.47 1518.59,1910.47 1513.83,1914.14 1515.65,1920.09 1510.89,1916.41 1506.13,1920.09 1507.95,1914.14 1503.19,1910.47 1509.07,1910.47"/><polygon points="1486.98,1932.74 1488.79,1938.68 1494.68,1938.68 1489.92,1942.35 1491.74,1948.29 1486.98,1944.62 1482.21,1948.29 1484.03,1942.35 1479.27,1938.68 1485.16,1938.68"/><polygon points="1464.59,1958.31 1466.41,1964.25 1472.29,1964.25 1467.53,1967.92 1469.35,1973.86 1464.59,1970.19 1459.83,1973.86 1461.65,1967.92 1456.88,1964.25 1462.77,1964.25"/><polygon points="1443.58,1981.56 1445.40,1987.50 1451.29,1987.50 1446.53,1991.17 1448.35,1997.12 1443.58,1993.44 1438.82,1997.12 1440.64,1991.17 1435.88,1987.50 1441.77,1987.50"/><polygon points="1423.84,2002.77 1425.66,2008.71 1431.54,2008.71 1426.78,2012.38 1428.60,2018.32 1423.84,2014.65 1419.08,2018.32 1420.90,2012.38 1416.14,2008.71 1422.02,2008.71"/><polygon points="1405.24,2022.16 1407.06,2028.10 1412.95,2028.10 1408.19,2031.77 1410.01,2037.72 1405.24,2034.04 1400.48,2037.72 1402.30,2031.77 1397.54,2028.10 1403.43,2028.10"/><polygon points="1387.70,2039.94 1389.52,2045.88 1395.41,2045.88 1390.64,2049.56 1392.46,2055.50 1387.70,2051.83 1382.94,2055.50 1384.76,2049.56 1380.00,2045.88 1385.88,2045.88"/><polygon points="1371.12,2056.28 1372.94,2062.23 1378.83,2062.23 1374.07,2065.90 1375.88,2071.84 1371.12,2068.17 1366.36,2071.84 1368.18,2065.90 1363.42,2062.23 1369.31,2062.23"/><polygon points="1355.43,2071.34 1357.25,2077.28 1363.14,2077.28 1358.38,2080.95 1360.19,2086.90 1355.43,2083.22 1350.67,2086.90 1352.49,2080.95 1347.73,2077.28 1353.61,2077.28"/><polygon points="1340.56,2085.24 1342.38,2091.18 1348.26,2091.18 1343.50,2094.86 1345.32,2100.80 1340.56,2097.13 1335.80,2100.80 1337.62,2094.86 1332.86,2091.18 1338.74,2091.18"/><polygon points="1326.44,2098.10 1328.26,2104.04 1334.15,2104.04 1329.39,2107.72 1331.21,2113.66 1326.44,2109.99 1321.68,2113.66 1323.50,2107.72 1318.74,2104.04 1324.63,2104.04"/><polygon points="1313.03,2110.02 1314.85,2115.96 1320.73,2115.96 1315.97,2119.64 1317.79,2125.58 1313.03,2121.91 1308.27,2125.58 1310.08,2119.64 1305.32,2115.96 1311.21,2115.96"/><polygon points="1300.26,2121.09 1302.08,2127.04 1307.96,2127.04 1303.20,2130.71 1305.02,2136.65 1300.26,2132.98 1295.50,2136.65 1297.32,2130.71 1292.56,2127.04 1298.44,2127.04"/><polygon points="1288.09,2131.39 1289.91,2137.34 1295.80,2137.34 1291.04,2141.01 1292.86,2146.95 1288.09,2143.28 1283.33,2146.95 1285.15,2141.01 1280.39,2137.34 1286.28,2137.34"/><polygon points="1276.49,2140.99 1278.31,2146.94 1284.19,2146.94 1279.43,2150.61 1281.25,2156.55 1276.49,2152.88 1271.73,2156.55 1273.55,2150.61 1268.79,2146.94 1274.67,2146.94"/><polygon points="1265.41,2149.96 1267.23,2155.90 1273.11,2155.90 1268.35,2159.57 1270.17,2165.51 1265.41,2161.84 1260.65,2165.51 1262.47,2159.57 1257.71,2155.90 1263.59,2155.90"/><polygon points="1254.82,2158.33 1256.64,2164.28 1262.52,2164.28 1257.76,2167.95 1259.58,2173.89 1254.82,2170.22 1250.06,2173.89 1251.88,2167.95 1247.11,2164.28 1253.00,2164.28"/><polygon points="1244.68,2166.18 1246.50,2172.12 1252.39,2172.12 1247.63,2175.79 1249.44,2181.73 1244.68,2178.06 1239.92,2181.73 1241.74,2175.79 1236.98,2172.12 1242.86,2172.12"/><polygon points="1234.98,2173.53 1236.79,2179.47 1242.68,2179.47 1237.92,2183.15 1239.74,2189.09 1234.98,2185.42 1230.21,2189.09 1232.03,2183.15 1227.27,2179.47 1233.16,2179.47"/><polygon points="1225.67,2180.44 1227.49,2186.38 1233.37,2186.38 1228.61,2190.05 1230.43,2195.99 1225.67,2192.32 1220.91,2195.99 1222.73,2190.05 1217.97,2186.38 1223.85,2186.38"/><polygon points="1216.74,2186.93 1218.56,2192.87 1224.45,2192.87 1219.68,2196.54 1221.50,2202.49 1216.74,2198.81 1211.98,2202.49 1213.80,2196.54 1209.04,2192.87 1214.92,2192.87"/><polygon points="1208.17,2193.04 1209.99,2198.98 1215.87,2198.98 1211.11,2202.65 1212.93,2208.60 1208.17,2204.92 1203.41,2208.60 1205.22,2202.65 1200.46,2198.98 1206.35,2198.98"/><polygon points="1199.93,2198.80 1201.75,2204.74 1207.63,2204.74 1202.87,2208.41 1204.69,2214.35 1199.93,2210.68 1195.17,2214.35 1196.98,2208.41 1192.22,2204.74 1198.11,2204.74"/><polygon points="1192.00,2204.23 1193.82,2210.17 1199.71,2210.17 1194.95,2213.85 1196.76,2219.79 1192.00,2216.12 1187.24,2219.79 1189.06,2213.85 1184.30,2210.17 1190.18,2210.17"/><polygon points="1184.37,2209.36 1186.19,2215.30 1192.08,2215.30 1187.32,2218.98 1189.14,2224.92 1184.37,2221.25 1179.61,2224.92 1181.43,2218.98 1176.67,2215.30 1182.56,2215.30"/><polygon points="1177.03,2214.21 1178.85,2220.16 1184.73,2220.16 1179.97,2223.83 1181.79,2229.77 1177.03,2226.10 1172.27,2229.77 1174.08,2223.83 1169.32,2220.16 1175.21,2220.16"/><polygon points="1169.94,2218.81 1171.76,2224.75 1177.65,2224.75 1172.89,2228.42 1174.71,2234.36 1169.94,2230.69 1165.18,2234.36 1167.00,2228.42 1162.24,2224.75 1168.13,2224.75"/><polygon points="1163.11,2223.16 1164.93,2229.10 1170.82,2229.10 1166.06,2232.77 1167.88,2238.72 1163.11,2235.04 1158.35,2238.72 1160.17,2232.77 1155.41,2229.10 1161.30,2229.10"/><polygon points="1156.52,2227.28 1158.34,2233.23 1164.23,2233.23 1159.46,2236.90 1161.28,2242.84 1156.52,2239.17 1151.76,2242.84 1153.58,2236.90 1148.82,2233.23 1154.70,2233.23"/><polygon points="1150.16,2231.20 1151.97,2237.14 1157.86,2237.14 1153.10,2240.82 1154.92,2246.76 1150.16,2243.09 1145.39,2246.76 1147.21,2240.82 1142.45,2237.14 1148.34,2237.14"/><polygon points="1144.00,2234.92 1145.82,2240.87 1151.71,2240.87 1146.95,2244.54 1148.76,2250.48 1144.00,2246.81 1139.24,2250.48 1141.06,2244.54 1136.30,2240.87 1142.18,2240.87"/><polygon points="1138.06,2238.46 1139.87,2244.40 1145.76,2244.40 1141.00,2248.08 1142.82,2254.02 1138.06,2250.35 1133.29,2254.02 1135.11,2248.08 1130.35,2244.40 1136.24,2244.40"/><polygon points="1132.30,2241.83 1134.12,2247.77 1140.00,2247.77 1135.24,2251.45 1137.06,2257.39 1132.30,2253.72 1127.54,2257.39 1129.36,2251.45 1124.60,2247.77 1130.48,2247.77"/><polygon points="1126.73,2245.04 1128.55,2250.98 1134.43,2250.98 1129.67,2254.65 1131.49,2260.60 1126.73,2256.92 1121.97,2260.60 1123.79,2254.65 1119.03,2250.98 1124.91,2250.98"/><polygon points="1121.34,2248.09 1123.16,2254.04 1129.04,2254.04 1124.28,2257.71 1126.10,2263.65 1121.34,2259.98 1116.58,2263.65 1118.39,2257.71 1113.63,2254.04 1119.52,2254.04"/><polygon points="1116.11,2251.01 1117.93,2256.95 1123.81,2256.95 1119.05,2260.63 1120.87,2266.57 1116.11,2262.90 1111.35,2266.57 1113.17,2260.63 1108.41,2256.95 1114.29,2256.95"/><polygon points="1111.04,2253.80 1112.86,2259.74 1118.75,2259.74 1113.99,2263.41 1115.81,2269.35 1111.04,2265.68 1106.28,2269.35 1108.10,2263.41 1103.34,2259.74 1109.23,2259.74"/><polygon points="1106.13,2256.46 1107.95,2262.40 1113.83,2262.40 1109.07,2266.07 1110.89,2272.01 1106.13,2268.34 1101.37,2272.01 1103.19,2266.07 1098.43,2262.40 1104.31,2262.40"/><polygon points="1101.36,2259.00 1103.18,2264.94 1109.07,2264.94 1104.31,2268.61 1106.12,2274.55 1101.36,2270.88 1096.60,2274.55 1098.42,2268.61 1093.66,2264.94 1099.54,2264.94"/></g>
<g stroke="#f00" fill="#f00" stroke-linejoin="round" stroke-linecap="round"><path d="M1621.00,1776.10L1165.30,2327.40" stroke-width="6.5" fill="none"/><path d="M1146.20,2350.70L1160.30,2321.70L1170.30,2333.10Z" stroke-width="6.2"/></g>
<rect x="1041.20" y="1708.90" width="153.50" height="75.50" fill="#fff" stroke="#2a2a2a" stroke-width="1.1"/>
<path d="M1044.10,1727.40H1065.50M1082.90,1727.40H1104.00" stroke="#111" stroke-width="1.1" fill="none"/>
<polygon points="1074.20,1718.70 1076.02,1724.64 1081.90,1724.64 1077.14,1728.32 1078.96,1734.26 1074.20,1730.59 1069.44,1734.26 1071.26,1728.32 1066.50,1724.64 1072.38,1724.64" fill="#000"/>
<text transform="translate(1115.39,1737.97) scale(0.8012,1)" font-size="30.74" class="s" >S4</text>
<text transform="translate(1114.55,1776.86) scale(0.8006,1)" font-size="31.45" class="s" >1.42eV</text></g>
</svg>
</body></html>
